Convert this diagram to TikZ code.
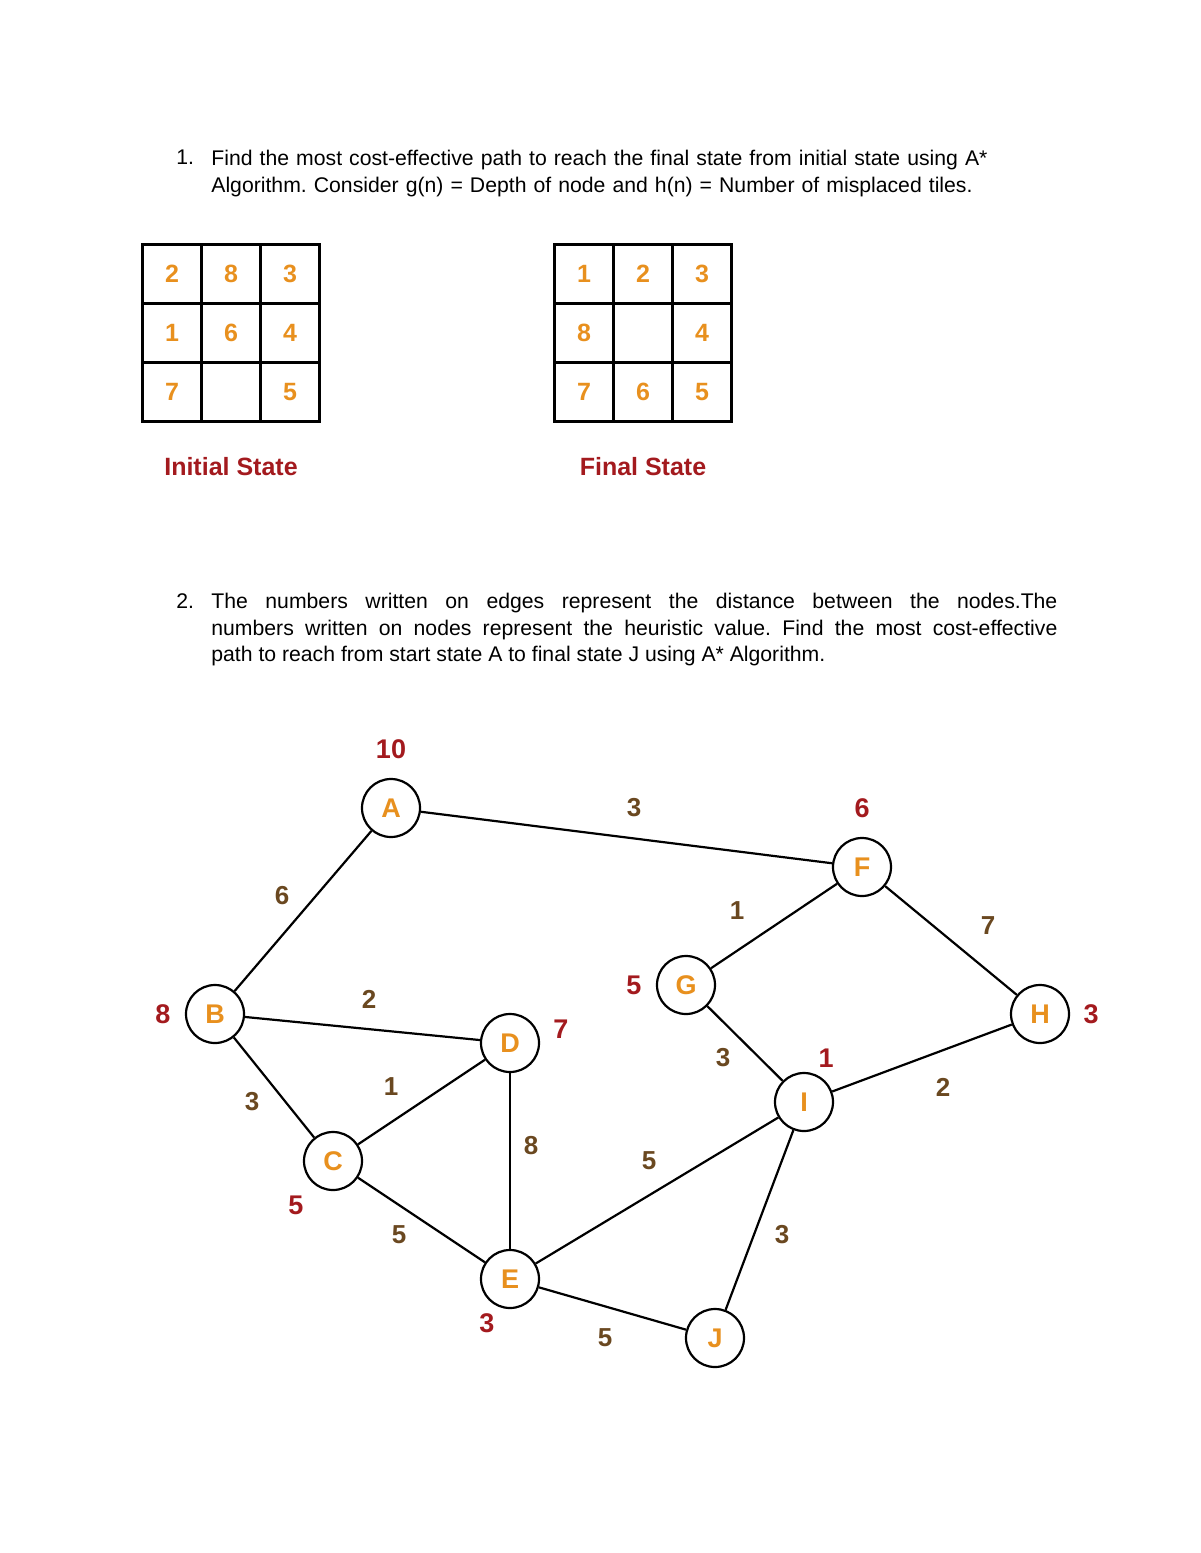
\documentclass[tikz,border=0pt]{standalone}
\usepackage{fontspec}
\setmainfont{Liberation Sans}
\definecolor{tileor}{HTML}{E8901E}
\definecolor{hred}{HTML}{A31A1E}
\definecolor{ebrown}{HTML}{6A4820}
\begin{document}
\frenchspacing
\begin{tikzpicture}[x=0.5pt,y=-0.5pt,
  st/.style={circle,draw,line width=1.1pt,minimum size=29pt,inner sep=0pt,font=\fontsize{13.5}{13.5}\selectfont\bfseries,text=tileor,fill=white},
  hv/.style={font=\fontsize{13.5}{13.5}\selectfont\bfseries,text=hred},
  ev/.style={font=\fontsize{13}{13}\selectfont\bfseries,text=ebrown},
  ed/.style={line width=1.1pt},
  tile/.style={draw,line width=1.2pt,minimum size=29.5pt,inner sep=0pt,font=\fontsize{12.5}{12.5}\selectfont\bfseries,text=tileor},
  ttl/.style={font=\fontsize{12.5}{12.5}\selectfont\bfseries,text=hred},
  para/.style={font=\fontsize{10.6}{13.2}\selectfont,text width=423pt,align=justify,anchor=north west,inner sep=0pt}]
\useasboundingbox (0,0) rectangle (1200,1553);
\node[anchor=north west,inner sep=0pt,font=\fontsize{10.6}{13.2}\selectfont] (n1) at (176,150) {1.};
\node[para,align=left] (p1) at (211,150) {Find the most cost-effective path to reach the final state from initial state using A*\\ Algorithm. Consider g(n) = Depth of node and h(n) = Number of misplaced tiles.};
% grids
\foreach \v [count=\i from 0] in {2,8,3,1,6,4,7,,5}{
  \pgfmathtruncatemacro{\c}{mod(\i,3)}\pgfmathtruncatemacro{\r}{div(\i,3)}
  \node[tile] (ia\i) at (172+59*\c,274+59*\r) {\v};}
\foreach \v [count=\i from 0] in {1,2,3,8,,4,7,6,5}{
  \pgfmathtruncatemacro{\c}{mod(\i,3)}\pgfmathtruncatemacro{\r}{div(\i,3)}
  \node[tile] (fa\i) at (584+59*\c,274+59*\r) {\v};}
\node[ttl] (tI) at (231,467) {Initial State};
\node[ttl] (tF) at (643,467) {Final State};
\node[anchor=north west,inner sep=0pt,font=\fontsize{10.6}{13.2}\selectfont] (n2) at (176,593) {2.};
\node[para] (p2) at (211,593) {\hyphenpenalty=10000 The numbers written on edges represent the distance between the nodes.The\linebreak numbers written on nodes represent the heuristic value. Find the most cost-effective\linebreak path to reach from start state A to final state J using A* Algorithm.};
% graph
\node[st] (A) at (391,808) {A};
\node[st] (B) at (215,1014) {B};
\node[st] (C) at (333,1161) {C};
\node[st] (D) at (510,1043) {D};
\node[st] (E) at (510,1279) {E};
\node[st] (F) at (862,867) {F};
\node[st] (G) at (686,985) {G};
\node[st] (H) at (1040,1014) {H};
\node[st] (I) at (804,1102) {I};
\node[st] (J) at (715,1338) {J};
\draw[ed] (A)--(F); \draw[ed] (A)--(B); \draw[ed] (B)--(D); \draw[ed] (B)--(C);
\draw[ed] (C)--(D); \draw[ed] (C)--(E); \draw[ed] (D)--(E); \draw[ed] (F)--(G);
\draw[ed] (F)--(H); \draw[ed] (G)--(I); \draw[ed] (H)--(I); \draw[ed] (I)--(E);
\draw[ed] (I)--(J); \draw[ed] (E)--(J);
\node[hv] (hA) at (391,749) {10};
\node[hv] (hB) at (163,1014) {8};
\node[hv] (hC) at (296,1205) {5};
\node[hv] (hD) at (561,1029) {7};
\node[hv] (hE) at (487,1323) {3};
\node[hv] (hF) at (862,808) {6};
\node[hv] (hG) at (634,985) {5};
\node[hv] (hH) at (1091,1014) {3};
\node[hv] (hI) at (826,1058) {1};
\node[ev] (eAF) at (634,808) {3};
\node[ev] (eAB) at (282,896) {6};
\node[ev] (eBD) at (369,999) {2};
\node[ev] (eBC) at (252,1102) {3};
\node[ev] (eCD) at (391,1087) {1};
\node[ev] (eDE) at (531,1146) {8};
\node[ev] (eCE) at (399,1235) {5};
\node[ev] (eFG) at (737,911) {1};
\node[ev] (eFH) at (988,926) {7};
\node[ev] (eGI) at (723,1058) {3};
\node[ev] (eHI) at (943,1087) {2};
\node[ev] (eEI) at (649,1161) {5};
\node[ev] (eIJ) at (782,1235) {3};
\node[ev] (eEJ) at (605,1338) {5};
\end{tikzpicture}
\end{document}
